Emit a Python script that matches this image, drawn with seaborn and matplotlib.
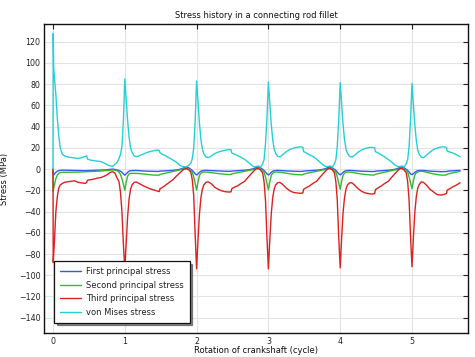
import matplotlib
matplotlib.use("Agg")
import matplotlib.pyplot as plt
from matplotlib.lines import Line2D
import pandas as pd
import seaborn as sns

# ---------------- data ----------------
series_names = ["First principal stress", "Second principal stress",
                "Third principal stress", "von Mises stress"]
colors = ["#3558f0", "#35b935", "#dd2020", "#25d0d5"]

# first (start-up) cycle, explicit times
t_start = [0.0, 0.003, 0.01, 0.02, 0.04, 0.06, 0.08, 0.10, 0.13, 0.16, 0.20, 0.25,
           0.30, 0.35, 0.40, 0.45, 0.47, 0.48, 0.52, 0.57, 0.62, 0.67, 0.72, 0.76,
           0.80, 0.83, 0.86, 0.89, 0.92, 0.94, 0.96, 0.98]
s1_start = [0, -6, -5.5, -4.5, -3, -2, -1.5, -1.2, -1, -1, -1.1, -1.2, -1.3, -1.4, -1.5,
            -1.5, -1.5, -1.4, -1.3, -1.2, -1.1, -1, -0.8, -0.5, -0.2, 0, -0.3, -0.8,
            -1.3, -2, -3, -4.5]
s2_start = [0, -21, -18, -15, -9, -5.5, -4, -3.3, -3, -3, -3, -3, -2.8, -2.8, -2.6, -2.5,
            -2.5, -2.4, -2.3, -2.2, -2, -1.8, -1.5, -1.2, -1, -0.8, -1, -1.5, -3, -5,
            -9, -14]
s3_start = [0, -88, -80, -68, -40, -26, -18, -15, -13.5, -12.5, -12, -11.5, -11, -12.5,
            -13, -13.5, -12.5, -10.5, -10, -9.4, -8.5, -7.9, -6.5, -5, -3, -2.5, -3.5,
            -8, -12, -22, -40, -70]
vm_start = [0, 128, 95, 86, 70, 48, 32, 20, 14, 12.5, 11.5, 11, 10.5, 10, 10.8, 12,
            12.5, 9.5, 8.5, 8, 7.5, 7, 5.5, 4, 3, 2.5, 4.5, 6, 10, 14, 21, 45]

# later cycles: position within a cycle (fraction of one rotation)
phase = [0.00, 0.02, 0.04, 0.06, 0.08, 0.10, 0.13, 0.16, 0.20, 0.25, 0.30, 0.35,
         0.40, 0.45, 0.48, 0.49, 0.52, 0.57, 0.62, 0.67, 0.72, 0.76, 0.80, 0.83,
         0.86, 0.89, 0.92, 0.94, 0.96, 0.98]
cycles = [1, 2, 3, 4, 5]

s1_cycles = [
    [-5.7, -4.5, -3, -2, -1.6, -1.4, -1.3, -1.3, -1.5, -1.7, -1.9, -2, -2.1, -2.2, -2.1,
     -1.9, -1.8, -1.6, -1.4, -1.2, -0.8, -0.3, 0.5, 1.5, 2, 1.2, -0.2, -1.3, -2.8, -4.5],
    [-5.5, -4.5, -3, -2, -1.5, -1.3, -1.2, -1.3, -1.4, -1.6, -1.8, -1.9, -2, -2.1, -2,
     -1.9, -1.7, -1.5, -1.3, -1.1, -0.7, -0.2, 0.6, 1.6, 2, 1.2, -0.2, -1.3, -2.8, -4.5],
    [-5.5, -4.5, -3, -2, -1.5, -1.3, -1.2, -1.3, -1.5, -1.7, -1.9, -2, -2.1, -2.2, -2.1,
     -1.9, -1.7, -1.5, -1.3, -1.1, -0.7, -0.2, 0.6, 1.6, 2, 1.2, -0.2, -1.3, -2.8, -4.5],
    [-5.4, -4.4, -3, -2, -1.5, -1.3, -1.2, -1.3, -1.5, -1.8, -2, -2.1, -2.2, -2.3, -2.2,
     -2, -1.8, -1.6, -1.3, -1.1, -0.7, -0.2, 0.6, 1.6, 2.1, 1.2, -0.2, -1.3, -2.8, -4.5],
    [-5.2, -4.3, -3, -2, -1.5, -1.3, -1.2, -1.3, -1.6, -1.9, -2.1, -2.3, -2.4, -2.4, -2.3,
     -2, -1.8, -1.6, -1.4, -1.2],
]
s2_cycles = [
    [-20, -12, -6.5, -4.5, -4, -4, -4, -4, -4.2, -4.6, -5, -5.3, -5.6, -5.7, -5.6, -5,
     -4.6, -3.8, -3, -2.2, -1.5, -0.8, -0.2, 0.2, 0.3, -0.2, -1.2, -3, -7.5, -13.5],
    [-19.8, -12, -6, -3.8, -3, -2.8, -2.8, -3, -3.3, -3.8, -4.2, -4.6, -4.9, -5.1, -5,
     -4.5, -4.1, -3.4, -2.7, -2, -1.4, -0.8, -0.2, 0.2, 0.3, -0.2, -1.2, -3, -7.5, -13.5],
    [-19.5, -12, -6, -3.8, -3, -2.8, -2.8, -3, -3.4, -4, -4.5, -4.9, -5.2, -5.4, -5.3,
     -4.7, -4.2, -3.5, -2.8, -2.1, -1.4, -0.8, -0.2, 0.2, 0.3, -0.2, -1.2, -3, -7.5, -13.5],
    [-19, -11.5, -6, -3.8, -3, -2.8, -2.8, -3, -3.5, -4.1, -4.7, -5.1, -5.4, -5.6, -5.5,
     -4.9, -4.4, -3.6, -2.9, -2.1, -1.4, -0.8, -0.2, 0.2, 0.3, -0.2, -1.2, -3, -7.5, -13],
    [-18.5, -11, -5.5, -3.5, -2.6, -2.2, -2, -2.3, -3, -3.8, -4.5, -5.1, -5.6, -5.7, -5.5,
     -4.8, -4.3, -3.5, -2.8, -2.1],
]
s3_cycles = [
    [-94, -68, -44, -28, -19, -15, -12.5, -12.2, -13.5, -15.5, -17, -18.5, -19.5, -20.5,
     -21.2, -18.5, -17.5, -15, -12.5, -10, -6.5, -4, -1.5, 0.2, 0.6, -0.5, -3, -10, -25, -62],
    [-94, -66, -42, -27, -19, -15, -12.5, -12, -13.5, -17, -19, -20.5, -21.3, -21.6,
     -21.4, -18.5, -17.2, -15.8, -13.5, -11.5, -7.5, -4.5, -1.5, 0.5, 0.8, -0.8, -3.5,
     -12, -30, -65],
    [-94, -66, -42, -27, -19, -15, -12.8, -12.5, -14.5, -18, -20.5, -22, -22.5, -22.8,
     -22.5, -19, -17.8, -16, -13.5, -11.5, -7.5, -4.5, -1.5, 0.5, 0.8, -0.8, -3.5, -12,
     -30, -65],
    [-93, -65, -41, -27, -19, -15, -13, -12.8, -15, -18.5, -21, -22.5, -23.2, -23.5, -23,
     -19.5, -18, -16, -13.5, -11.5, -7.5, -4.5, -1.5, 0.5, 0.8, -0.8, -3.5, -12, -30, -64],
    [-92, -64, -40, -26, -18, -14.5, -12, -12.5, -15, -19, -21.5, -24, -24.5, -23.8, -23,
     -19.8, -18.8, -16.6, -15, -12.9],
]
vm_cycles = [
    [85, 65, 45, 30, 20, 16, 12.5, 11.6, 12.5, 14, 15.4, 16.5, 17.3, 17.9, 17.5, 15.4, 14,
     12.5, 10.5, 8.5, 6.5, 4, 2.5, 2.2, 2.3, 3.5, 5.5, 10, 20, 45],
    [83, 63, 43, 28, 19, 14.5, 11.5, 10.8, 12, 14.5, 16, 17, 17.8, 18.5, 18.2, 15.2, 14.3,
     12.8, 11, 9.2, 6.5, 4, 2, 2.5, 3, 1.8, 5, 9, 24, 48],
    [82, 62, 42, 28, 19, 15, 12, 11.5, 13.5, 16.5, 18.5, 19.8, 20.5, 21, 20.5, 16.5, 15.5,
     13.5, 12, 9.5, 6.5, 4, 2.5, 2.5, 3, 2, 5, 9, 22, 47],
    [81.5, 61, 42, 28, 19, 15, 12, 11.3, 13, 16, 18, 19.5, 20.3, 20.5, 20, 16.5, 15.5,
     13.5, 11.5, 9, 6.5, 4, 2.5, 2.3, 3, 2, 5, 9, 22, 47],
    [80.8, 60, 41, 27, 18, 14, 11.2, 10.8, 13, 16, 18.5, 19.8, 20.8, 21, 20.3, 17, 16.2,
     15.2, 13.5, 11.6],
]

x_ticks = [0, 1, 2, 3, 4, 5]
y_ticks = list(range(-140, 121, 20))
title = "Stress history in a connecting rod fillet"
xlabel = "Rotation of crankshaft (cycle)"
ylabel = "Stress (MPa)"

# ---------------- long table ----------------
rows = []
starts = [s1_start, s2_start, s3_start, vm_start]
cyc_sets = [s1_cycles, s2_cycles, s3_cycles, vm_cycles]
for name, st, cs in zip(series_names, starts, cyc_sets):
    for t, v in zip(t_start, st):
        rows.append((name, t, v))
    for c, vals in zip(cycles, cs):
        for p, v in zip(phase, vals):
            rows.append((name, c + p, v))
df = pd.DataFrame(rows, columns=["series", "t", "stress"])

# ---------------- plot ----------------
sns.set_theme(style="white")
plt.rcParams["font.family"] = ["DejaVu Sans"]
plt.rcParams["text.color"] = "#222222"

fig = plt.figure(figsize=(4.75, 3.57), dpi=100)
ax = fig.add_axes([44 / 475, 1 - 333 / 357, 424 / 475, 309 / 357])

sns.lineplot(data=df, x="t", y="stress", hue="series", hue_order=series_names,
             palette=colors, estimator=None, sort=False, linewidth=1.0,
             legend=False, ax=ax)

ax.set_xlim(-0.1253, 5.780)
ax.set_ylim(-154.4, 136.7)
ax.set_xticks(x_ticks)
ax.set_yticks(y_ticks)
ax.grid(True, color="#e3e3e3", linewidth=0.8)
ax.set_axisbelow(True)
ax.tick_params(axis="both", direction="in", length=3.5, width=0.8, top=True,
               right=True, labelsize=5.7, colors="#222222")
ax.tick_params(axis="x", pad=3.0)
ax.tick_params(axis="y", pad=2.5)
for s in ax.spines.values():
    s.set_visible(True)
    s.set_color("#111111")
    s.set_linewidth(1.0)

ax.set_title(title, fontsize=6, pad=4.5, color="#111111")
ax.set_xlabel(xlabel, fontsize=6, color="#111111")
ax.set_ylabel(ylabel, fontsize=6, color="#111111")
ax.xaxis.set_label_coords(0.5, -0.042)
ax.yaxis.set_label_coords(-0.083, 0.5)

handles = [Line2D([0], [0], color=c, lw=1.0) for c in colors]
leg = ax.legend(handles, series_names, loc="lower left",
                bbox_to_anchor=(0.0243, 0.0333), borderaxespad=0, fontsize=6,
                frameon=True, fancybox=False, shadow={"color": "#555555", "alpha": 0.7},
                framealpha=1, edgecolor="#111111", handlelength=2.5,
                handletextpad=0.6, borderpad=0.7, labelspacing=0.55)
leg.get_frame().set_linewidth(0.9)

fig.savefig("out.png", dpi=100)
